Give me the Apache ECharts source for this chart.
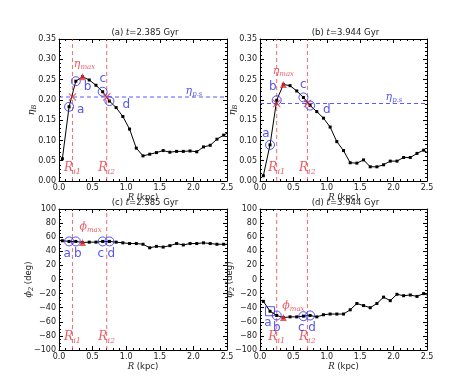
<!DOCTYPE html>
<html><head><meta charset="utf-8">
<script src="https://cdn.jsdelivr.net/npm/echarts@6/dist/echarts.min.js"></script>
<style>html,body{margin:0;padding:0;background:#fff}#c{width:474px;height:390px}</style>
</head><body><div id="c"></div>
<script>
// ---- data ----
const R = [0.05,0.15,0.25,0.35,0.45,0.55,0.65,0.75,0.85,0.95,1.05,1.15,1.25,1.35,1.45,1.55,1.65,1.75,1.85,1.95,2.05,2.15,2.25,2.35,2.45,2.55];
const etaA = [0.055,0.183,0.246,0.257,0.249,0.236,0.220,0.197,0.181,0.159,0.128,0.081,0.062,0.066,0.070,0.075,0.071,0.073,0.073,0.074,0.072,0.084,0.088,0.103,0.113,0.122];
const etaB = [0.013,0.089,0.199,0.238,0.235,0.222,0.206,0.186,0.171,0.155,0.133,0.097,0.075,0.045,0.044,0.052,0.035,0.035,0.040,0.049,0.049,0.058,0.058,0.068,0.076,0.065];
const phiC = [55,54,54,52.5,53,53,54,54,53,52,51,51,50,45,47,46,48,51,49,51,51,52,51,50,50,50];
const phiD = [-31,-45,-51,-54,-53,-53,-52,-51,-53,-50,-49,-49,-49,-43,-34,-37,-40,-34,-25,-30,-21,-23,-22,-24,-20,-24];
const markIdx = [1,2,6,7];           // a, b, c, d
const markNames = ['a','b','c','d'];
const maxIdx = 3;
const titles = ['(a) ', '(b) ', '(c) ', '(d) '];
const times = ['2.385','3.944','2.385','3.944'];
const Ri1 = [0.20, 0.25, 0.20, 0.25];
const Ri2 = [0.71, 0.71, 0.71, 0.71];
const etaPS = [0.207, 0.191];
const xTicks = [0, 2.5, 0.5];
const etaTicks = [0, 0.35, 0.05];
const phiTicks = [-100, 100, 20];

// ---- layout ----
const grids = [
  {left:59, top:39, width:168, height:142},
  {left:260, top:39, width:167, height:142},
  {left:59, top:209, width:168, height:141},
  {left:260, top:209, width:167, height:141}
];
const RED = '#e8323c', REDL = 'rgba(232,60,70,0.75)', BLUE = '#2a2af0', BLUEL = 'rgba(60,60,255,0.85)';
const font = 'DejaVu Sans';
const serif = 'DejaVu Serif';

const option = {animation:false, backgroundColor:'#fff', grid:grids, xAxis:[], yAxis:[], series:[], title:[]};

function axisCommon(){
  return {
    axisLine:{show:true, onZero:false, lineStyle:{color:'#000', width:1}},
    axisTick:{show:true, inside:true, length:4, lineStyle:{color:'#000'}},
    minorTick:{show:true, splitNumber:5, length:2, lineStyle:{color:'#000'}},
    splitLine:{show:false}
  };
}

const pLetterPos = [
  [['right',[1,3]],['right',[1,6]],['top',[0,0]],['right',[6,4]]],
  [['top',[-4,2]],['top',[-4,0]],['top',[0,0]],['right',[6,4]]],
  [['bottom',[-2,-1]],['bottom',[2,-1]],['bottom',[-2,-1]],['bottom',[2,-1]]],
  [['bottom',[-2,-1]],['bottom',[0,-1]],['bottom',[-2,-1]],['bottom',[2,-1]]]
];
const maxLabelOffset = [[2,0],[0,0],[8,-2],[10,2]];

for (let p=0;p<4;p++){
  const isEta = p<2;
  const vals = [etaA, etaB, phiC, phiD][p];
  const yt = isEta ? etaTicks : phiTicks;
  option.xAxis.push(Object.assign(axisCommon(), {
    type:'value', gridIndex:p, min:xTicks[0], max:xTicks[1], interval:xTicks[2], position:'bottom',
    axisLabel:{fontFamily:font, fontSize:8, color:'#222', margin:3, formatter:v=>v.toFixed(1)},
    name:'{i|R} (kpc)', nameLocation:'middle', nameGap:12, nameMoveOverlap:false,
    nameTextStyle:{fontFamily:font, fontSize:8.5, color:'#222', rich:{i:{fontFamily:serif, fontStyle:'italic', fontSize:8.5, color:'#222'}}}
  }));
  option.xAxis.push(Object.assign(axisCommon(), {
    type:'value', gridIndex:p, min:xTicks[0], max:xTicks[1], interval:xTicks[2], position:'top',
    axisLabel:{show:false}
  }));
  option.yAxis.push(Object.assign(axisCommon(), {
    type:'value', gridIndex:p, min:yt[0], max:yt[1], interval:yt[2], position:'left',
    minorTick:{show:true, splitNumber: isEta?5:4, length:2, lineStyle:{color:'#000'}},
    axisLabel:{fontFamily:font, fontSize:8, color:'#222', margin:3, formatter: v=> isEta ? v.toFixed(2) : String(Math.round(v)).replace('-','\u2212')},
    name: isEta ? '{e|η}{s|B}' : '{e|ϕ}{s|2} (deg)', nameLocation:'middle', nameGap: isEta?21:24, nameRotate:90, nameMoveOverlap:false,
    nameTextStyle:{fontFamily:font, fontSize:8.5, color:'#222', rich:{
      e:{fontFamily:serif, fontStyle:'italic', fontSize:9.5, color:'#222'},
      s:{fontFamily:serif, fontStyle:'italic', fontSize:6.5, color:'#222', padding:[5,0,0,0]}}}
  }));
  option.yAxis.push(Object.assign(axisCommon(), {
    type:'value', gridIndex:p, min:yt[0], max:yt[1], interval:yt[2], position:'right',
    minorTick:{show:true, splitNumber: isEta?5:4, length:2, lineStyle:{color:'#000'}},
    axisLabel:{show:false}
  }));
  const xi = 2*p, yi = 2*p;
  option.title.push({
    text:'{n|'+titles[p]+'}{t|t}{n|='+times[p]+' Gyr}',
    left: grids[p].left + grids[p].width/2 + 2, top: grids[p].top - 11, textAlign:'center', padding:0,
    textStyle:{fontWeight:'normal', rich:{n:{fontFamily:font, fontSize:8.5, color:'#222', fontWeight:'normal'}, t:{fontFamily:serif, fontStyle:'italic', fontSize:8.5, color:'#222', fontWeight:'normal'}}}
  });
  // vertical dashed lines R_i1, R_i2
  [[Ri1[p],'i1'],[Ri2[p],'i2']].forEach(([rv,sub])=>{
    option.series.push({
      type:'line', xAxisIndex:xi, yAxisIndex:yi, symbol:'none', silent:true, z:1,
      lineStyle:{color:REDL, width:1, type:[4,3]},
      data:[[rv, yt[0]], [rv, yt[1]]]
    });
    option.series.push({
      type:'scatter', xAxisIndex:xi, yAxisIndex:yi, symbolSize:1, silent:true, z:2,
      itemStyle:{color:'rgba(0,0,0,0)'},
      data:[{value:[rv, yt[0]], label:{show:true, position:'top', distance:5, formatter:'{r|R}{s|'+sub+'}',
        rich:{r:{fontFamily:serif, fontStyle:'italic', fontSize:12, color:RED}, s:{fontFamily:serif, fontStyle:'italic', fontSize:8, color:RED, padding:[7,0,0,0]}}}}]
    });
  });
  // horizontal eta_p.s
  if (isEta){
    option.series.push({
      type:'line', xAxisIndex:xi, yAxisIndex:yi, symbol:'none', silent:true, z:1,
      lineStyle:{color:BLUEL, width:1, type:[4,3]},
      data:[[xTicks[0], etaPS[p]], [xTicks[1], etaPS[p]]]
    });
    option.series.push({
      type:'scatter', xAxisIndex:xi, yAxisIndex:yi, symbolSize:1, silent:true, z:2,
      itemStyle:{color:'rgba(0,0,0,0)'},
      data:[{value:[xTicks[1], etaPS[p]], label:{show:true, position:'top', offset:[-33, 2], distance:1,
        formatter:'{e|η}{s|p.s}', rich:{e:{fontFamily:serif, fontStyle:'italic', fontSize:11, color:BLUE}, s:{fontFamily:serif, fontStyle:'italic', fontSize:7, color:BLUE, padding:[6,0,0,0]}}}}]
    });
  }
  // main line
  option.series.push({
    type:'line', xAxisIndex:xi, yAxisIndex:yi, z:3,
    symbol:'rect', symbolSize:3, itemStyle:{color:'#000'}, lineStyle:{color:'#000', width:1},
    data: R.map((r,k)=>[r, vals[k]])
  });
  // blue markers a-d
  option.series.push({
    type:'scatter', xAxisIndex:xi, yAxisIndex:yi, z:4,
    symbolSize:9,
    itemStyle:{color:'rgba(0,0,0,0)', borderColor:BLUE, borderWidth:1},
    data: markIdx.map((k,j)=>({
      value:[R[k], vals[k]],
      symbol: (p===3 && j===0) ? 'rect' : 'circle',
      label:{show:true, formatter:markNames[j], position:pLetterPos[p][j][0], offset:pLetterPos[p][j][1], distance:2,
        fontFamily:font, fontSize:12, color:BLUE}
    }))
  });
  // red triangle max
  option.series.push({
    type:'scatter', xAxisIndex:xi, yAxisIndex:yi, z:5, symbol:'triangle', symbolSize:7,
    itemStyle:{color:RED},
    data:[{value:[R[maxIdx], vals[maxIdx]], label:{show:true, position:'top', distance:3, offset:maxLabelOffset[p],
      formatter: isEta ? '{e|η}{s|max}' : '{e|ϕ}{s|max}',
      rich:{e:{fontFamily:serif, fontStyle:'italic', fontSize:11, color:RED}, s:{fontFamily:serif, fontStyle:'italic', fontSize:7, color:RED, padding:[6,0,0,0]}}}}]
  });
  // red X crossings
  if (isEta){
    option.series.push({
      type:'scatter', xAxisIndex:xi, yAxisIndex:yi, z:6,
      symbol:'path://M0,1 L1,0 L5,4 L9,0 L10,1 L6,5 L10,9 L9,10 L5,6 L1,10 L0,9 L4,5 Z',
      symbolSize:8, itemStyle:{color:RED},
      data:[[Ri1[p], etaPS[p]], [Ri2[p], etaPS[p]]]
    });
  }
}

const chart = echarts.init(document.getElementById('c'), null, {renderer:'canvas'});
chart.setOption(option);
</script>
</body></html>
